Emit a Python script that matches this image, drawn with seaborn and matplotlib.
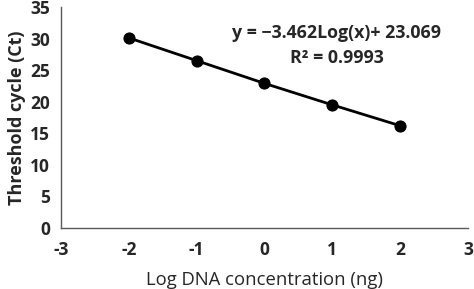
import matplotlib
matplotlib.use("Agg")
import matplotlib.pyplot as plt
import seaborn as sns
import pandas as pd

log_conc = [-2, -1, 0, 1, 2]
ct_values = [30.1, 26.5, 22.9, 19.5, 16.2]
x_ticks = [-3, -2, -1, 0, 1, 2, 3]
y_ticks = [0, 5, 10, 15, 20, 25, 30, 35]
equation = "y = \u22123.462Log(x)+ 23.069"
r2_text = "R\u00b2 = 0.9993"

sns.set_style("white")
plt.rcParams['font.family'] = ['Open Sans', 'DejaVu Sans']

df = pd.DataFrame({"x": log_conc, "y": ct_values})

fig = plt.figure(figsize=(4.74, 2.89), dpi=100)
ax = fig.add_axes([0.1287, 0.211, 0.8583, 0.765])

sns.lineplot(data=df, x="x", y="y", ax=ax, color="black", linewidth=2,
             marker="o", markersize=8, markeredgecolor="black")

ax.set_xlim(-3, 3)
ax.set_ylim(0, 35)
ax.set_xticks(x_ticks)
ax.set_yticks(y_ticks)
ax.set_xticklabels([str(t) for t in x_ticks], fontweight="bold", fontsize=12.5)
ax.set_yticklabels([str(t) for t in y_ticks], fontweight="bold", fontsize=12.5)
ax.tick_params(axis="x", direction="in", length=5, width=1, color="#595959", pad=9)
ax.tick_params(axis="y", direction="in", length=5, width=1, color="#595959", pad=8)

for side in ["top", "right"]:
    ax.spines[side].set_visible(False)
for side in ["left", "bottom"]:
    ax.spines[side].set_color("#595959")
    ax.spines[side].set_linewidth(1)

ax.set_xlabel("Log DNA concentration (ng)", fontsize=13.3, labelpad=9)
ax.set_ylabel("Threshold cycle (Ct)", fontsize=13, fontweight="bold", labelpad=3)

ax.text(1.07, 30.9, equation, ha="center", va="center", fontsize=12.8, fontweight="bold")
ax.text(1.07, 26.9, r2_text, ha="center", va="center", fontsize=12.8, fontweight="bold")

fig.savefig("out.png", dpi=100)
